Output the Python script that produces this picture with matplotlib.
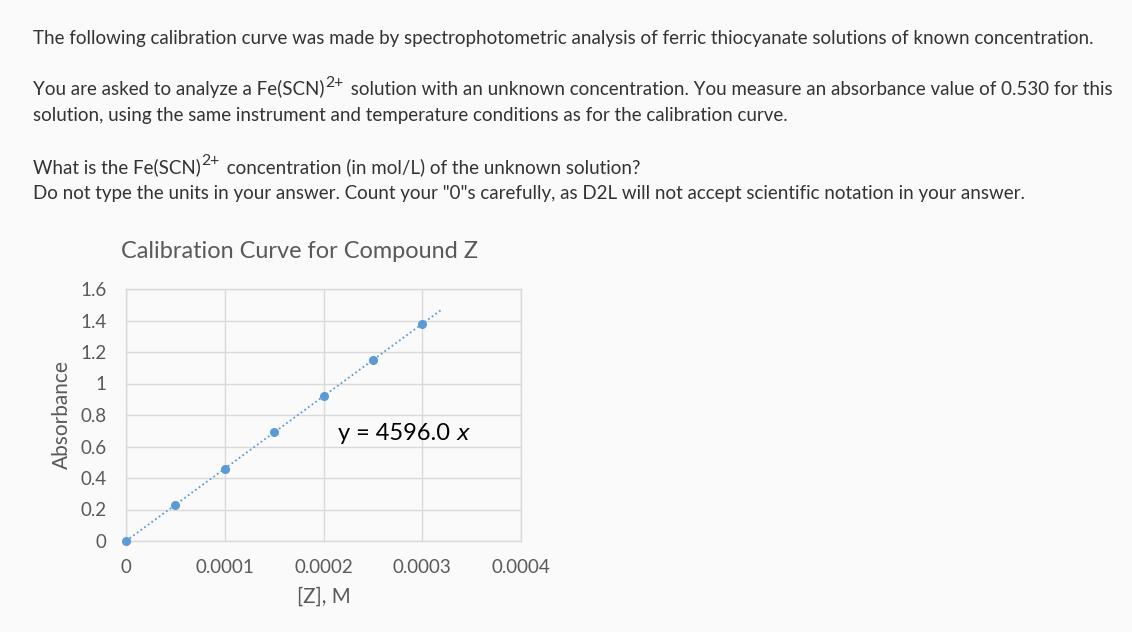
import matplotlib.pyplot as plt
import numpy as np

# calibration data
conc = [0, 0.00005, 0.0001, 0.00015, 0.0002, 0.00025, 0.0003]
absorb = [0, 0.23, 0.46, 0.69, 0.92, 1.15, 1.38]
slope = 4596.0
trend_end = 0.00032

xticks = [0, 0.0001, 0.0002, 0.0003, 0.0004]
xtick_labels = ['0', '0.0001', '0.0002', '0.0003', '0.0004']
yticks = [0, 0.2, 0.4, 0.6, 0.8, 1.0, 1.2, 1.4, 1.6]
ytick_labels = ['0', '0.2', '0.4', '0.6', '0.8', '1', '1.2', '1.4', '1.6']

# question text, each line split into (before, superscript, after)
question = [
    ("The following calibration curve was made by spectrophotometric analysis of ferric thiocyanate solutions of known concentration.", "", ""),
    ("You are asked to analyze a Fe(SCN)", "2+", " solution with an unknown concentration. You measure an absorbance value of 0.530 for this"),
    ("solution, using the same instrument and temperature conditions as for the calibration curve.", "", ""),
    ("What is the Fe(SCN)", "2+", " concentration (in mol/L) of the unknown solution?"),
    ("Do not type the units in your answer. Count your \"0\"s carefully, as D2L will not accept scientific notation in your answer.", "", ""),
]
line_y = [44, 95, 121, 173, 199]  # baselines in px

plt.rcParams['font.family'] = ['Lato', 'DejaVu Sans']

W, H = 1132, 632
bg = '#fafafa'
fig = plt.figure(figsize=(W / 100, H / 100), dpi=100, facecolor=bg)
page = fig.add_axes([0, 0, 1, 1])
page.axis('off')

fs = 13.5
for (a, sup, b), y in zip(question, line_y):
    t1 = page.text(33 / W, 1 - y / H, a, fontsize=fs, color='#333333',
                   va='baseline', ha='left', transform=page.transAxes)
    if sup:
        t2 = page.annotate(sup, xy=(1, 0), xycoords=t1, xytext=(0.5, 6), textcoords='offset points',
                           fontsize=fs * 0.85, color='#333333', va='bottom', ha='left')
        page.annotate(b, xy=(1, 0), xycoords=t2, xytext=(1.5, -6), textcoords='offset points',
                      fontsize=fs, color='#333333', va='bottom', ha='left')

ax = fig.add_axes([126 / W, 1 - 541 / H, (521 - 126) / W, (541 - 289) / H])
ax.set_facecolor(bg)
blue = '#5b9bd5'
grid_c = '#d9d9d9'

tx = np.array([0, trend_end])
ax.plot(tx, slope * tx, linestyle=(0, (1, 1.5)), color=blue, linewidth=1.3, zorder=2)
ax.plot(conc, absorb, 'o', color=blue, markersize=5.5, zorder=3, clip_on=False)

ax.set_xlim(0, 0.0004)
ax.set_ylim(0, 1.6)
ax.set_xticks(xticks)
ax.set_xticklabels(xtick_labels)
ax.set_yticks(yticks)
ax.set_yticklabels(ytick_labels)
ax.tick_params(length=0, labelsize=13.5, labelcolor='#595959')
ax.tick_params(axis='x', pad=13)
ax.tick_params(axis='y', pad=14)
ax.grid(True, color=grid_c, linewidth=1)
ax.set_axisbelow(True)
for s in ax.spines.values():
    s.set_color(grid_c)
    s.set_linewidth(1)

ax.set_xlabel('[Z], M', fontsize=14.8, color='#595959', labelpad=8)
ax.set_ylabel('Absorbance', fontsize=15, color='#595959', labelpad=6)
fig.text(121 / W, 1 - 252 / H, 'Calibration Curve for Compound Z', fontsize=16.9,
         color='#595959', va='center', ha='left')
eq = ax.text(0.000215, 0.64, 'y = %.1f ' % slope, fontsize=17, color='black', va='baseline', ha='left')
ax.annotate('x', xy=(1, 0), xycoords=eq, fontsize=15.5, family='DejaVu Sans', style='italic',
            color='black', va='bottom', ha='left')

fig.savefig('out.png', dpi=100, facecolor=bg)
